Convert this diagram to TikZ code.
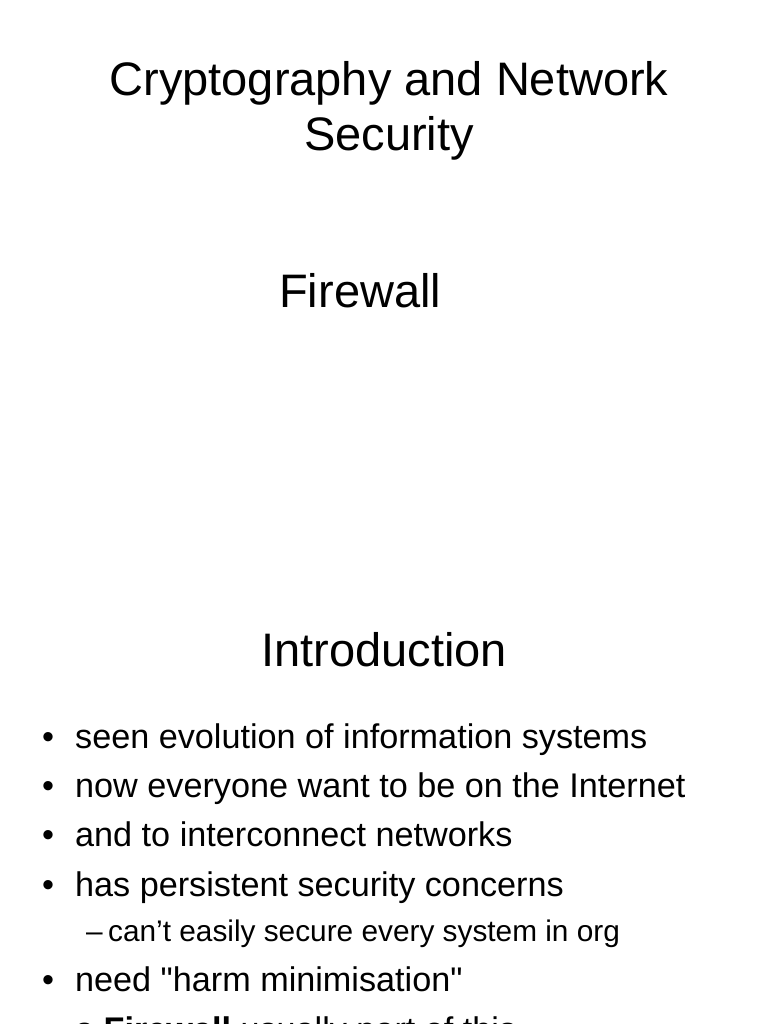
\documentclass[tikz,border=0pt]{standalone}
\usepackage{fontspec}
\setmainfont[Ligatures=TeXOff]{Liberation Sans}
\begin{document}
\begin{tikzpicture}[x=1pt,y=-1pt,
  title/.style={font=\fontsize{47}{56}\selectfont,inner sep=0pt},
  item/.style={font=\fontsize{34.2}{40}\selectfont,inner sep=0pt,anchor=base west},
  subitem/.style={font=\fontsize{29.8}{35}\selectfont,inner sep=0pt,anchor=base west}]
\useasboundingbox (0,0) rectangle (768,1024);
\clip (0,0) rectangle (768,1024);
\fill[white] (0,0) rectangle (768,1024);
\node[title] (t1) at (389,83) {Cryptography and Network};
\node[title] (t2) at (389,138) {Security};
\node[title,anchor=west] (fw) at (279,291) {Firewall};
\node[title] (intro) at (384,650) {Introduction};
\foreach \y/\t [count=\i] in {748/seen evolution of information systems,
  797/now everyone want to be on the Internet,
  846/and to interconnect networks,
  896/has persistent security concerns,
  991/need "harm minimisation"}{
  \node[item] (b\i) at (42,\y) {\textbullet};
  \node[item] (x\i) at (75,\y) {\t};
}
\node[subitem] (sd) at (86,941) {\textendash};
\node[subitem] (st) at (108,941) {can’t easily secure every system in org};
\node[item] (b6) at (42,1041) {\textbullet};
\node[item] (x6) at (75,1041) {a \textbf{Firewall} usually part of this};
\end{tikzpicture}
\end{document}
